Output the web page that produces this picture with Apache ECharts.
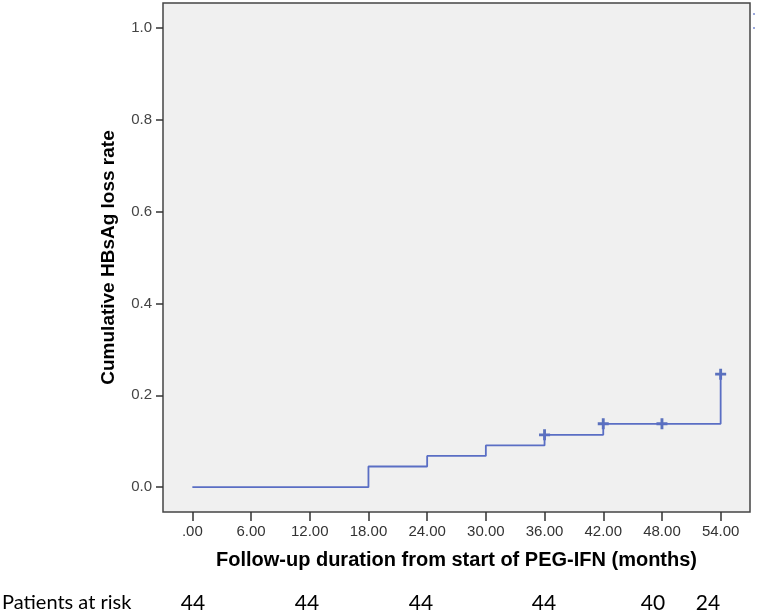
<!DOCTYPE html>
<html>
<head>
<meta charset="utf-8">
<script src="https://cdn.jsdelivr.net/npm/echarts@6/dist/echarts.min.js"></script>
<style>
html,body{margin:0;padding:0;background:#fff;}
#chart{width:757px;height:612px;}
</style>
</head>
<body>
<div id="chart"></div>
<script>
// ---- data ----
const stepMonths = [0, 18, 24, 30, 36, 42, 54];
const lossRate = [0, 0.045, 0.068, 0.091, 0.114, 0.138, 0.246];
const censorMonths = [36, 42, 48, 54];
const censorRate = [0.114, 0.138, 0.138, 0.246];
const xTickValues = [0, 6, 12, 18, 24, 30, 36, 42, 48, 54];
const xTickLabels = ['.00', '6.00', '12.00', '18.00', '24.00', '30.00', '36.00', '42.00', '48.00', '54.00'];
const yTickValues = [0, 0.2, 0.4, 0.6, 0.8, 1.0];
const yTickLabels = ['0.0', '0.2', '0.4', '0.6', '0.8', '1.0'];
const riskTitle = 'Patients at risk';
const riskCounts = [44, 44, 44, 44, 40, 24];
const xTitle = 'Follow-up duration from start of PEG-IFN (months)';
const yTitle = 'Cumulative HBsAg loss rate';

// ---- layout (pixel positions of the risk-table text) ----
const riskTextX = [193, 307, 421, 544, 653, 708];
const riskTextY = 603;

const chart = echarts.init(document.getElementById('chart'), null, {renderer: 'canvas'});

const lineData = stepMonths.map((m, i) => [m, lossRate[i]]);
const censorData = censorMonths.map((m, i) => [m, censorRate[i]]);

const graphics = [
  {type: 'text', x: 2, y: riskTextY,
   style: {text: riskTitle, font: '20px Lato', fill: '#000', verticalAlign: 'middle'}}
].concat(riskCounts.map((c, i) => ({
  type: 'text', x: riskTextX[i], y: riskTextY,
  style: {text: String(c), font: '21px Lato', fill: '#000', align: 'center', verticalAlign: 'middle'}
})));

chart.setOption({
  animation: false,
  backgroundColor: '#fff',
  grid: {left: 163, right: 7, top: 3, bottom: 100, show: true,
         backgroundColor: '#f0f0f0', borderColor: '#444', borderWidth: 1.5},
  xAxis: {
    type: 'value', min: -3, max: 57,
    name: xTitle, nameLocation: 'middle', nameGap: 38,
    nameTextStyle: {fontFamily: 'Liberation Sans', fontWeight: 'bold', fontSize: 20, color: '#000'},
    axisLine: {show: false, onZero: false},
    axisTick: {show: true, inside: false, length: 9, customValues: xTickValues, lineStyle: {color: '#333', width: 1.5}},
    axisLabel: {customValues: xTickValues, margin: 12, fontFamily: 'Liberation Sans', fontSize: 15, color: '#333',
      formatter: v => { const i = xTickValues.indexOf(v); return i >= 0 ? xTickLabels[i] : ''; }},
    splitLine: {show: false}
  },
  yAxis: {
    type: 'value', min: -0.054, max: 1.054,
    name: yTitle, nameLocation: 'middle', nameGap: 45,
    nameTextStyle: {fontFamily: 'Liberation Sans', fontWeight: 'bold', fontSize: 19, color: '#000'},
    axisLine: {show: false, onZero: false},
    axisTick: {show: true, inside: false, length: 7, customValues: yTickValues, lineStyle: {color: '#333', width: 1.5}},
    axisLabel: {customValues: yTickValues, margin: 11, fontFamily: 'Liberation Sans', fontSize: 15, color: '#444',
      formatter: v => { const i = yTickValues.findIndex(t => Math.abs(t - v) < 1e-6); return i >= 0 ? yTickLabels[i] : ''; }},
    splitLine: {show: false}
  },
  series: [
    {type: 'line', step: 'end', data: lineData, showSymbol: false, symbol: 'none',
     lineStyle: {color: '#5a6ec4', width: 1.8}, silent: true},
    {type: 'scatter', data: censorData,
     symbol: 'path://M3.7,0H6.3V3.7H10V6.3H6.3V10H3.7V6.3H0V3.7H3.7Z', symbolSize: 11,
     itemStyle: {color: '#3550b0'}, silent: true}
  ],
  graphic: graphics.concat([
    {type: 'rect', shape: {x: 753, y: 13, width: 2, height: 2}, style: {fill: '#9aa8dd'}},
    {type: 'rect', shape: {x: 753, y: 27, width: 2, height: 2}, style: {fill: '#9aa8dd'}}
  ])
});
</script>
</body>
</html>
